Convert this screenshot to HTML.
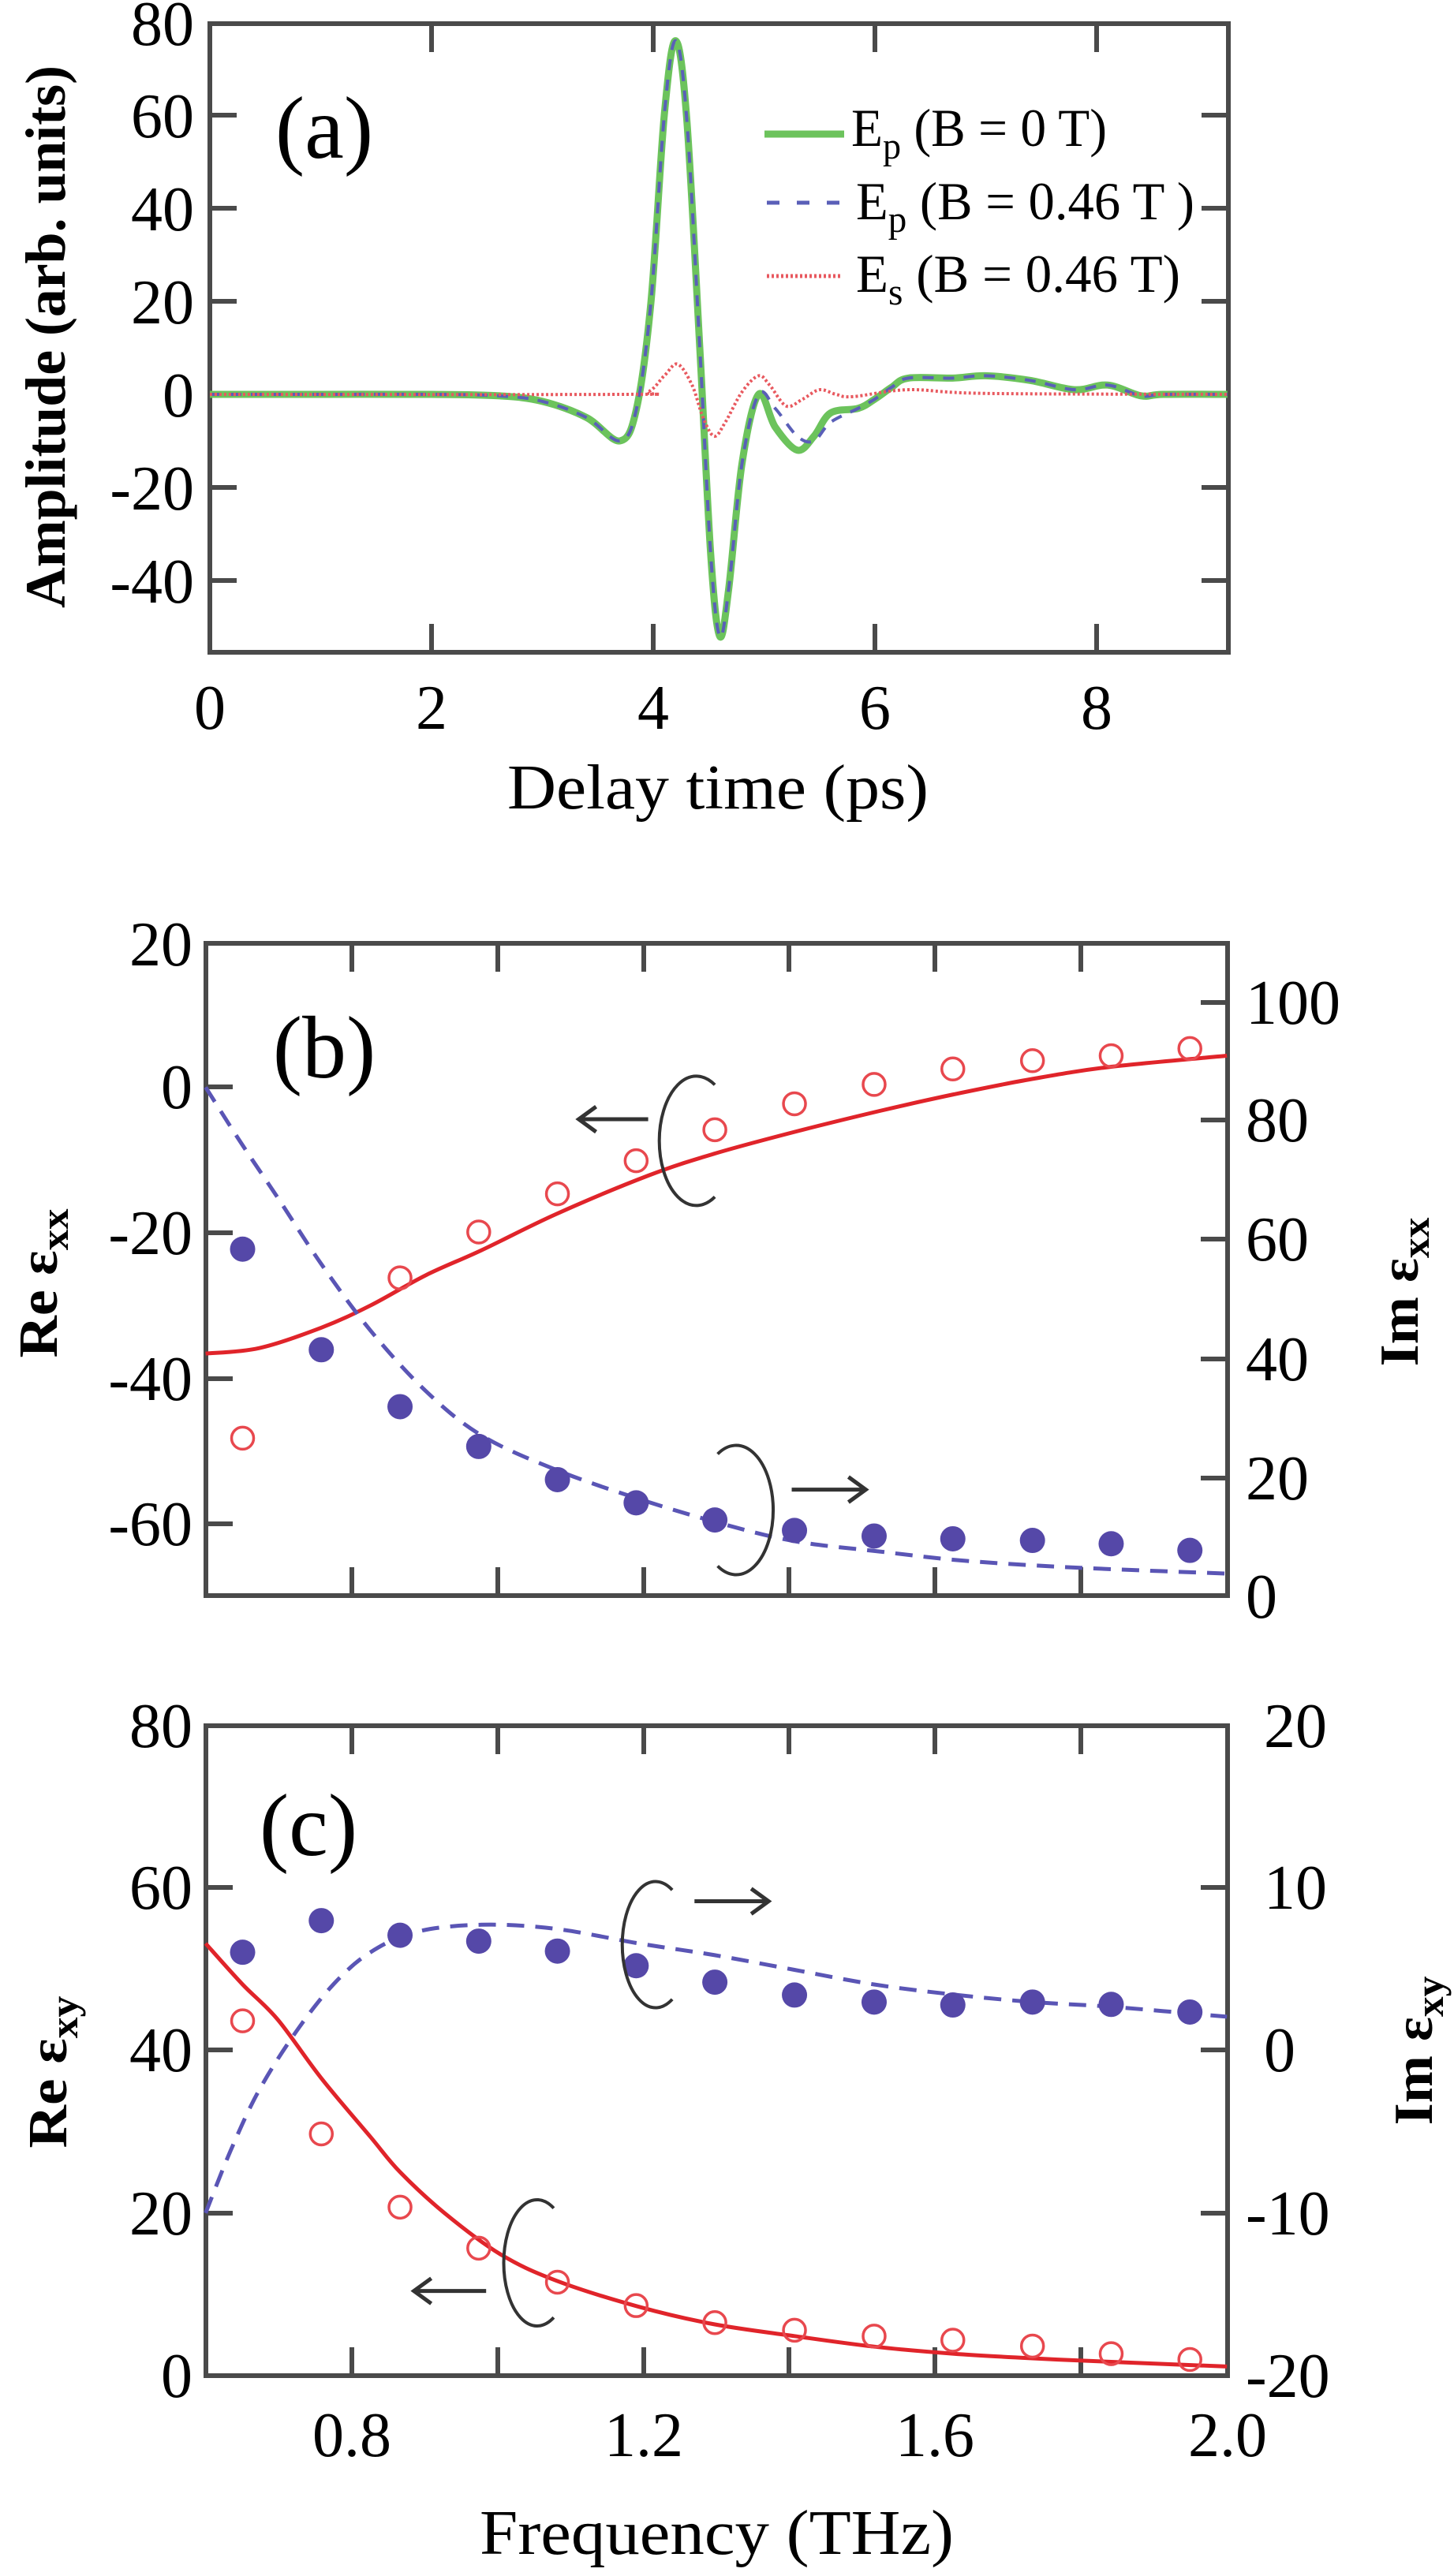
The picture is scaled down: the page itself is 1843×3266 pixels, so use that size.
<!DOCTYPE html>
<html><head><meta charset="utf-8"><style>
html,body{margin:0;padding:0;background:#fff;}
svg{display:block;}
text{font-family:"Liberation Serif",serif;fill:#000;}
</style></head><body>
<svg id="s" width="1843" height="3266" viewBox="0 0 1843 3266" xmlns="http://www.w3.org/2000/svg">
<rect width="1843" height="3266" fill="#fff"/>
<g id="plot"></g>
<!-- Panel a text -->
<g font-size="80">
<text x="246" y="57" text-anchor="end">80</text>
<text x="246" y="174" text-anchor="end">60</text>
<text x="246" y="292" text-anchor="end">40</text>
<text x="246" y="410" text-anchor="end">20</text>
<text x="246" y="528" text-anchor="end">0</text>
<text x="246" y="646" text-anchor="end">-20</text>
<text x="246" y="764" text-anchor="end">-40</text>
<text x="266" y="924" text-anchor="middle">0</text>
<text x="547" y="924" text-anchor="middle">2</text>
<text x="828" y="924" text-anchor="middle">4</text>
<text x="1109" y="924" text-anchor="middle">6</text>
<text x="1390" y="924" text-anchor="middle">8</text>
<text x="643" y="1025" textLength="534" lengthAdjust="spacingAndGlyphs">Delay time (ps)</text>
</g>
<text transform="translate(82,427) rotate(-90)" text-anchor="middle" font-size="72" font-weight="bold" textLength="688" lengthAdjust="spacingAndGlyphs">Amplitude (arb. units)</text>
<text x="411" y="200" text-anchor="middle" font-size="112">(a)</text>
<g font-size="68">
<text x="1079" y="185" textLength="324" lengthAdjust="spacingAndGlyphs">E<tspan font-size="48" dy="16">p</tspan><tspan dy="-16"> (B = 0 T)</tspan></text>
<text x="1085" y="278" textLength="429" lengthAdjust="spacingAndGlyphs">E<tspan font-size="48" dy="16">p</tspan><tspan dy="-16"> (B = 0.46 T )</tspan></text>
<text x="1085" y="370" textLength="411" lengthAdjust="spacingAndGlyphs">E<tspan font-size="48" dy="16">s</tspan><tspan dy="-16"> (B = 0.46 T)</tspan></text>
</g>
<!-- Panel b text -->
<g font-size="80">
<text x="244" y="1224" text-anchor="end">20</text>
<text x="244" y="1405" text-anchor="end">0</text>
<text x="244" y="1590" text-anchor="end">-20</text>
<text x="244" y="1775" text-anchor="end">-40</text>
<text x="244" y="1959" text-anchor="end">-60</text>
<text x="1579" y="1298">100</text>
<text x="1579" y="1447">80</text>
<text x="1579" y="1598">60</text>
<text x="1579" y="1750">40</text>
<text x="1579" y="1901">20</text>
<text x="1579" y="2051">0</text>
</g>
<text x="411" y="1366" text-anchor="middle" font-size="112">(b)</text>
<text transform="translate(72,1627) rotate(-90)" text-anchor="middle" font-size="70" font-weight="bold" textLength="189" lengthAdjust="spacingAndGlyphs">Re ε<tspan font-size="50" dy="14">xx</tspan></text>
<text transform="translate(1797,1638) rotate(-90)" text-anchor="middle" font-size="70" font-weight="bold" textLength="189" lengthAdjust="spacingAndGlyphs">Im ε<tspan font-size="50" dy="14">xx</tspan></text>
<!-- Panel c text -->
<g font-size="80">
<text x="244" y="2215" text-anchor="end">80</text>
<text x="244" y="2420" text-anchor="end">60</text>
<text x="244" y="2626" text-anchor="end">40</text>
<text x="244" y="2833" text-anchor="end">20</text>
<text x="244" y="3039" text-anchor="end">0</text>
<text x="1602" y="2215">20</text>
<text x="1602" y="2420">10</text>
<text x="1602" y="2626">0</text>
<text x="1579" y="2833">-10</text>
<text x="1579" y="3039">-20</text>
<text x="446" y="3114" text-anchor="middle">0.8</text>
<text x="816" y="3114" text-anchor="middle">1.2</text>
<text x="1185" y="3114" text-anchor="middle">1.6</text>
<text x="1556" y="3114" text-anchor="middle">2.0</text>
<text x="608" y="3238" textLength="601" lengthAdjust="spacingAndGlyphs">Frequency (THz)</text>
</g>
<text x="391" y="2352" text-anchor="middle" font-size="112">(c)</text>
<text transform="translate(84,2627) rotate(-90)" text-anchor="middle" font-size="70" font-weight="bold" textLength="193" lengthAdjust="spacingAndGlyphs">Re ε<tspan font-size="50" dy="14">xy</tspan></text>
<text transform="translate(1815,2600) rotate(-90)" text-anchor="middle" font-size="70" font-weight="bold" textLength="189" lengthAdjust="spacingAndGlyphs">Im ε<tspan font-size="50" dy="14">xy</tspan></text>
</svg>
<script>
(function(){
var NS="http://www.w3.org/2000/svg",g=document.getElementById("plot");
function el(t,a){var e=document.createElementNS(NS,t);for(var k in a)e.setAttribute(k,a[k]);g.appendChild(e);return e;}
function cr(p){var d="M"+p[0][0].toFixed(1)+","+p[0][1].toFixed(1);
for(var i=0;i<p.length-1;i++){var p0=p[i-1]||p[i],p1=p[i],p2=p[i+1],p3=p[i+2]||p2;
var c1=[p1[0]+(p2[0]-p0[0])/6,p1[1]+(p2[1]-p0[1])/6],c2=[p2[0]-(p3[0]-p1[0])/6,p2[1]-(p3[1]-p1[1])/6];
d+=" C"+c1[0].toFixed(1)+","+c1[1].toFixed(1)+" "+c2[0].toFixed(1)+","+c2[1].toFixed(1)+" "+p2[0].toFixed(1)+","+p2[1].toFixed(1);}return d;}
var FR="#4a4a4a";
function frame(x1,y1,x2,y2){el("rect",{x:x1,y:y1,width:x2-x1,height:y2-y1,fill:"none",stroke:FR,"stroke-width":6});}
function hl(x,y,len){el("line",{x1:x,y1:y,x2:x+len,y2:y,stroke:FR,"stroke-width":6});}
function vl(x,y,len){el("line",{x1:x,y1:y,x2:x,y2:y+len,stroke:FR,"stroke-width":6});}
// ---------- Panel a
var ax=function(t){return 266+140.5*t;},ay=function(v){return 500-5.9*v;};
frame(266,30,1557,827);
[2,4,6,8].forEach(function(t){vl(ax(t),30,36);vl(ax(t),827,-36);});
[-40,-20,0,20,40,60].forEach(function(v){hl(266,ay(v),34);hl(1557,ay(v),-34);});
var green=[[0,0],[1,0],[2,0],[2.6,-0.3],[3,-1.5],[3.4,-5],[3.7,-10],[3.85,-3],[3.98,20],[4.1,60],[4.2,76],[4.3,60],[4.42,10],[4.52,-35],[4.6,-52],[4.68,-42],[4.8,-15],[4.95,0],[5.1,-7],[5.3,-12],[5.45,-9],[5.6,-4],[5.85,-3],[6.0,-1],[6.15,1.5],[6.3,3.5],[6.7,3.5],[7.0,4],[7.4,3],[7.8,1],[8.1,2],[8.4,-0.3],[8.6,0],[9.18,0]];
var blue=green.map(function(p){var q=[p[0],p[1]];if(p[0]==5.1)q[1]=-3;if(p[0]==5.3)q[1]=-9;if(p[0]==5.45)q[1]=-10;if(p[0]==5.6)q[1]=-6;return q;});
var red=[[0,0],[3.7,0],[3.95,0.5],[4.1,4],[4.22,6.5],[4.35,2],[4.45,-5],[4.55,-9],[4.65,-6],[4.8,0.5],[4.95,4],[5.05,2],[5.2,-2.5],[5.35,-1],[5.5,1],[5.65,0],[5.8,-0.5],[6.3,1],[7,0.2],[9.18,0]];
function P(arr){return arr.map(function(p){return [ax(p[0]),ay(p[1])];});}
el("path",{d:cr(P(green)),fill:"none",stroke:"#6cc35c","stroke-width":9});
el("path",{d:cr(P(blue)),fill:"none",stroke:"#5a5fb8","stroke-width":4,"stroke-dasharray":"14,12"});
el("path",{d:cr(P(red)),fill:"none",stroke:"#e8595f","stroke-width":4,"stroke-dasharray":"3,3"});
el("line",{x1:969,y1:170,x2:1070,y2:170,stroke:"#6cc35c","stroke-width":9});
el("line",{x1:972,y1:257,x2:1070,y2:257,stroke:"#5a5fb8","stroke-width":5,"stroke-dasharray":"16,22"});
el("line",{x1:972,y1:350,x2:1068,y2:350,stroke:"#e8595f","stroke-width":5,"stroke-dasharray":"3,3"});
// ---------- Panel b
var X=function(d){return d/0.852;},Yb=function(d){return 1000+d/1.427;},Yc=function(d){return 2100+d/1.346;};
frame(261,1196,1556,2023);
var xt=[446,631,816,1000,1185,1370];
xt.forEach(function(x){vl(x,1196,36);vl(x,2023,-36);});
[1378,1563,1748,1932].forEach(function(y){hl(261,y,34);});
[1271,1420,1571,1723,1874].forEach(function(y){hl(1556,y,-34);});
function conv(arr,Y){return arr.map(function(p){return [X(p[0]),Y(p[1])];});}
el("path",{d:cr(conv([[222,1022],[280,1012],[347,975],[400,935],[460,880],[520,835],[600,770],[700,700],[772,660],[860,620],[950,583],[1030,553],[1115,525],[1200,503],[1325,483]],Yb)),fill:"none",stroke:"#e0242a","stroke-width":5});
el("path",{d:cr(conv([[222,540],[260,640],[300,740],[347,860],[400,980],[460,1090],[520,1170],[600,1232],[690,1285],[780,1330],[860,1362],[950,1380],[1030,1395],[1115,1405],[1200,1412],[1325,1420]],Yb)),fill:"none",stroke:"#5a55b5","stroke-width":5,"stroke-dasharray":"22,14"});
var xs=[262,347,432,517,602,687,772,858,944,1029,1115,1200,1285];
var rb=[1175,1015,885,802,733,673,617,570,535,507,492,483,470];
var bb=[833,1015,1118,1190,1250,1292,1323,1342,1352,1357,1360,1366,1378];
xs.forEach(function(x,i){el("circle",{cx:X(x),cy:Yb(rb[i]),r:14,fill:"none",stroke:"#e8484e","stroke-width":3.5});});
xs.forEach(function(x,i){el("circle",{cx:X(x),cy:Yb(bb[i]),r:16,fill:"#5548a8"});});
function bracket(cx,cy,rx,ry,gapRight){var a=60*Math.PI/180;var s=Math.sin(a),c=Math.cos(a);
var sx=gapRight?cx+rx*c:cx-rx*c;var y1=cy-ry*s,y2=cy+ry*s;
el("path",{d:"M"+sx+","+y1+" A"+rx+","+ry+" 0 1 "+(gapRight?0:1)+" "+sx+","+y2,fill:"none",stroke:"#333","stroke-width":4});}
function arrow(x1,y,x2){el("line",{x1:x1,y1:y,x2:x2,y2:y,stroke:"#333","stroke-width":5});var d=x2>x1?-1:1;
el("path",{d:"M"+(x2+d*22)+","+(y-16)+" L"+x2+","+y+" L"+(x2+d*22)+","+(y+16),fill:"none",stroke:"#333","stroke-width":5});}
bracket(X(752),Yb(637),X(40),82,true);
arrow(X(700),Yb(598),X(625));
bracket(X(795),Yb(1305),X(40),82,false);
arrow(X(855),Yb(1268),X(935));
// ---------- Panel c
frame(261,2188,1556,3012);
xt.forEach(function(x){vl(x,2188,36);vl(x,3012,-36);});
[2393,2599,2806].forEach(function(y){hl(261,y,34);hl(1556,y,-34);});
el("path",{d:cr(conv([[222,490],[262,560],[300,620],[347,720],[400,820],[432,880],[480,950],[540,1020],[600,1065],[690,1110],[772,1140],[858,1160],[944,1178],[1029,1190],[1115,1198],[1200,1204],[1325,1212]],Yc)),fill:"none",stroke:"#e0242a","stroke-width":5});
el("path",{d:cr(conv([[222,950],[250,840],[280,740],[320,640],[360,560],[400,505],[450,470],[520,458],[600,465],[690,490],[772,510],[858,535],[944,560],[1029,577],[1115,590],[1200,598],[1325,615]],Yc)),fill:"none",stroke:"#5a55b5","stroke-width":5,"stroke-dasharray":"22,14"});
var bc=[505,451,476,486,503,528,556,578,590,595,590,594,607];
var rc=[622,815,940,1010,1068,1108,1137,1150,1160,1167,1177,1190,1200];
xs.forEach(function(x,i){el("circle",{cx:X(x),cy:Yc(rc[i]),r:14,fill:"none",stroke:"#e8484e","stroke-width":3.5});});
xs.forEach(function(x,i){el("circle",{cx:X(x),cy:Yc(bc[i]),r:16,fill:"#5548a8"});});
bracket(X(708),Yc(492),X(36),80,true);
arrow(X(750),Yc(418),X(830));
bracket(X(580),Yc(1035),X(36),80,true);
arrow(X(525),Yc(1083),X(447));
})();
</script>
</body></html>
